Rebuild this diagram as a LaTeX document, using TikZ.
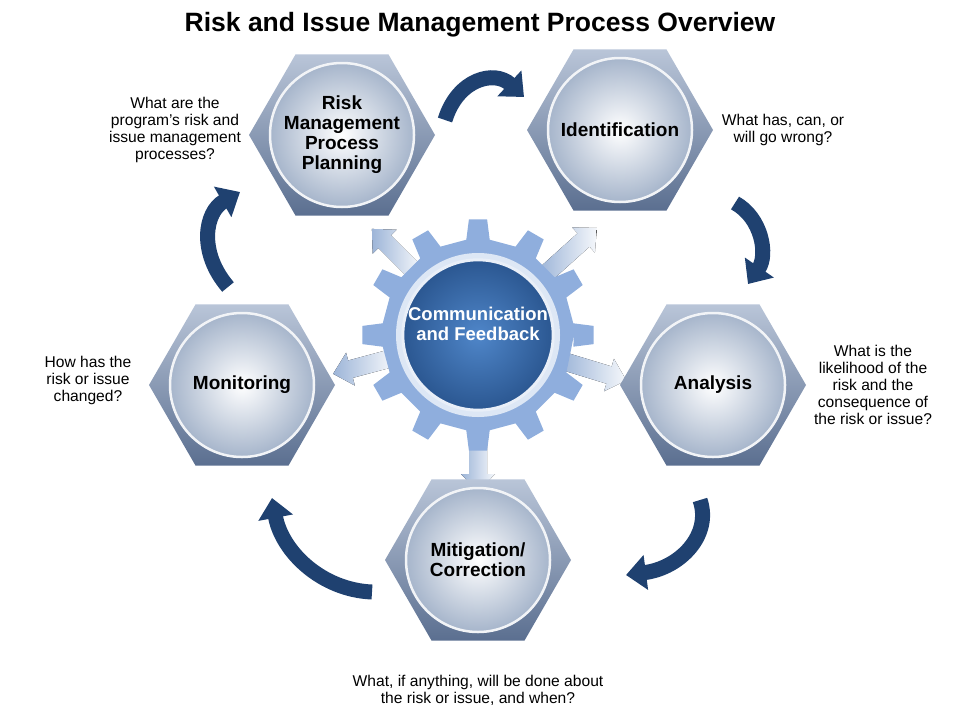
\documentclass[tikz,border=0pt]{standalone}
\usepackage{fontspec}
\setmainfont{Liberation Sans}
\usetikzlibrary{shapes.geometric,arrows.meta}
\definecolor{darkarr}{HTML}{1F4170}
\definecolor{gearc}{HTML}{8FAEDD}
\definecolor{hexlt}{HTML}{B9C5D8}
\definecolor{hexdk}{HTML}{5B6F90}
\definecolor{ballout}{HTML}{A6B5CB}
\definecolor{cdark}{HTML}{2B5791}
\definecolor{clight}{HTML}{4F86C9}
\definecolor{larr}{HTML}{9DB5D8}
\begin{document}
\begin{tikzpicture}[x=1pt,y=-1pt,
  hex/.style={regular polygon,regular polygon sides=6,minimum size=186pt,inner sep=0pt,
     top color=hexlt,bottom color=hexdk,draw=none},
  ball/.style={circle,minimum size=144pt,inner sep=0pt,inner color=white,outer color=ballout,
     draw=white!85!ballout,line width=2.5pt,align=center,font=\fontsize{19}{20}\selectfont\bfseries},
  side/.style={align=center,font=\fontsize{15.6}{17}\selectfont},
  curv/.style={darkarr,line width=15pt,-{Triangle[width=34pt,length=20pt]}},
  larrow/.style={left color=larr,right color=white!90!larr,draw=none}]
\useasboundingbox (0,0) rectangle (960,720);
\node[font=\fontsize{26.5}{28}\selectfont\bfseries] (title) at (480,25) {Risk and Issue Management Process Overview};
% light arrows from the gear
\foreach \px/\py/\ang/\len in {478/335/135/150, 478/335/42/160, 478/335/195/150, 478/335/-17/155, 478/335/-90/157}{
  \begin{scope}[shift={(\px,\py)},rotate=\ang,x=1pt,y=1pt]
    \fill[larrow] (90,-9) -- ({\len-18},-9) -- ({\len-18},-17) -- (\len,0) -- ({\len-18},17) -- ({\len-18},9) -- (90,9) -- cycle;
  \end{scope}}
% gear
\begin{scope}[shift={(478,335)},x=1pt,y=1pt]
  \fill[gearc] (0:96) \foreach \i in {0,...,11}{ -- ({\i*30-7}:96) -- ({\i*30-4.5}:116) -- ({\i*30+4.5}:116) -- ({\i*30+7}:96)} -- cycle;
  \fill[white!70!gearc] (0,0) circle (82pt);
\end{scope}
\node[circle,minimum size=150pt,inner sep=0pt,inner color=clight,outer color=cdark,
  draw=white!80!gearc,line width=3pt,text=white,align=center,
  font=\fontsize{18.5}{20}\selectfont\bfseries] (g) at (478,335) {Communication\\and Feedback\\[2pt]};
% hexagons
\node[hex] (hP) at (342,135) {};
\node[hex] (hI) at (620,130) {};
\node[hex] (hA) at (713,385) {};
\node[hex] (hM) at (478,560) {};
\node[hex] (hMo) at (242,385) {};
\node[ball] (bP) at (hP) {Risk\\Management\\Process\\Planning};
\node[ball] (bI) at (hI) {Identification};
\node[ball] (bA) at (hA) {Analysis};
\node[ball] (bM) at (hM) {Mitigation/\\Correction};
\node[ball] (bMo) at (hMo) {Monitoring};
% side texts
\node[side] (tP) at (175,130) {What are the\\program's risk and\\issue management\\processes?};
\node[side] (tI) at (783,130) {What has, can, or\\will go wrong?};
\node[side] (tA) at (873,385) {What is the\\likelihood of the\\risk and the\\consequence of\\the risk or issue?};
\node[side] (tMo) at (88,380) {How has the\\risk or issue\\changed?};
\node[side] (tM) at (478,690) {What, if anything, will be done about\\the risk or issue, and when?};
% curved arrows
\coordinate (a1s) at (445,120); \coordinate (a1e) at (524,97);
\coordinate (a2s) at (735,203); \coordinate (a2e) at (748,284);
\coordinate (a3s) at (700,500); \coordinate (a3e) at (626,575);
\coordinate (a4s) at (372,592); \coordinate (a4e) at (272,498);
\coordinate (a5s) at (228,287); \coordinate (a5e) at (240,192);
\draw[curv] (a1s) .. controls (458,78) and (495,70) .. (a1e);
\draw[curv] (a2s) .. controls (762,218) and (768,255) .. (a2e);
\draw[curv] (a3s) .. controls (712,535) and (680,568) .. (a3e);
\draw[curv] (a4s) .. controls (322,590) and (282,552) .. (a4e);
\draw[curv] (a5s) .. controls (198,252) and (205,212) .. (a5e);
\end{tikzpicture}
\end{document}
